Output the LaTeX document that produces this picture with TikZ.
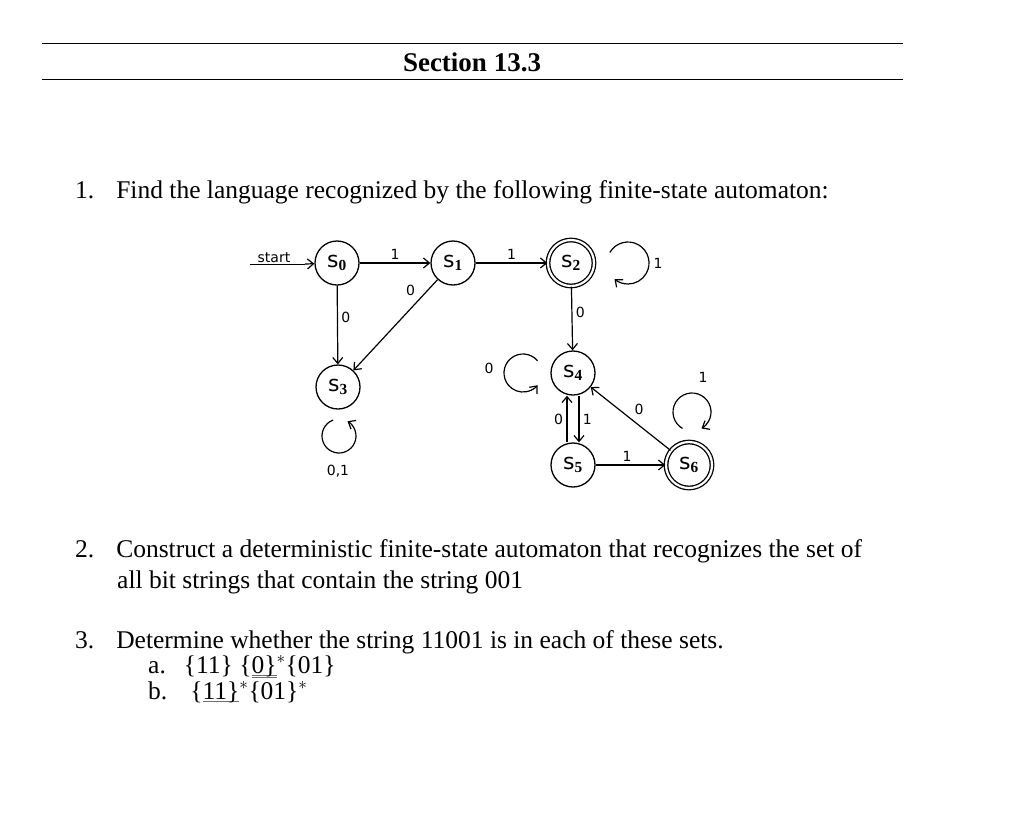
\documentclass[tikz,border=0pt]{standalone}
\usepackage{fontspec}
\setmainfont{Liberation Serif}
\newfontfamily\lab{DejaVu Sans}
\usetikzlibrary{arrows.meta}
\definecolor{ulblue}{RGB}{70,110,210}
\newcommand\dul[2]{{\setbox0\hbox{#2}\rlap{\textcolor{ulblue}{\rule[-2.5pt]{\wd0}{1pt}}}\ifnum#1=2\rlap{\textcolor{ulblue}{\rule[-4.8pt]{\wd0}{1pt}}}\fi\box0}}
\begin{document}
\begin{tikzpicture}[x=1pt,y=-1pt,
  st/.style={circle,draw,line width=1.3pt,minimum size=44pt,inner sep=0pt,font=\lab\fontsize{22}{22}\selectfont},
  acc/.style={st,double,double distance=2.2pt,minimum size=46pt},
  ed/.style={-{Straight Barb[length=6pt,width=10pt,line width=1.2pt]},line width=1.2pt},
  lb/.style={font=\lab\fontsize{14}{14}\selectfont},
  tx/.style={anchor=base west,inner sep=0pt,font=\fontsize{25.5}{28}\selectfont}]
\useasboundingbox (0,0) rectangle (1024,831);
\draw[line width=0.9pt] (42,43) -- (903,43);
\draw[line width=0.9pt] (42,79) -- (903,79);
\node[font=\bfseries\fontsize{27}{30}\selectfont] (title) at (472,62) {Section 13.3};
\node[tx] (q1) at (75,198) {1.\hspace{22pt}Find the language recognized by the following finite-state automaton:};
\node[tx] (q2) at (75,557) {2.\hspace{22pt}Construct a deterministic finite-state automaton that recognizes the set of};
\node[tx] (q2b) at (117,588) {all bit strings that contain the string 001};
\node[tx] (q3) at (75,648) {3.\hspace{22pt}Determine whether the string 11001 is in each of these sets.};
\node[tx] (qa) at (148,673) {a.\hspace{18pt}\{11\} \{\dul{2}{0\}}$^*$\{01\}};
\node[tx] (qb) at (148,699) {b.\hspace{23pt}\{\dul{1}{11\}}$^*$\{01\}$^*$};

\node[st] (s0) at (337,263) {s$_{\mathbf 0}$};
\node[st] (s1) at (453,263) {s$_{\mathbf 1}$};
\node[acc] (s2) at (571,263) {s$_{\mathbf 2}$};
\node[st] (s3) at (338,387) {s$_{\mathbf 3}$};
\node[st] (s4) at (573,373) {s$_{\mathbf 4}$};
\node[st] (s5) at (573,465) {s$_{\mathbf 5}$};
\node[acc] (s6) at (689,465) {s$_{\mathbf 6}$};
\node[lb,anchor=base] (start) at (274,262) {start};
\coordinate (st0) at (305,264);
\draw[line width=1pt] (250,264) -- (st0);
\draw[ed] (st0) -- (s0);
\draw[ed] (s0) -- node[lb,above]{1} (s1);
\draw[ed] (s1) -- node[lb,above]{1} (s2);
\draw[ed] (s0) -- node[lb,right,pos=0.4]{0} (s3);
\draw[ed] (s1) -- node[lb,above left,pos=0.22]{0} (s3);
\draw[ed] (s2) -- node[lb,right,pos=0.4]{0} (s4);
\draw[ed] ([xshift=6pt]s4.south) -- node[lb,right]{1} ([xshift=6pt]s5.north);
\draw[ed] ([xshift=-6pt]s5.north) -- node[lb,left]{0} ([xshift=-6pt]s4.south);
\draw[ed] (s5) -- node[lb,above,pos=0.45]{1} (s6);
\draw[ed] (s6) -- node[lb,above right,pos=0.5]{0} (s4);
\draw[ed] (628,263) ++(210:21) arc[start angle=210,end angle=490,radius=21];
\node[lb] (l2) at (658,263) {1};
\draw[ed] (339,436) ++(250:17) arc[start angle=250,end angle=-60,radius=17];
\node[lb] (l3) at (338,471) {0,1};
\draw[ed] (523,373) ++(-40:19) arc[start angle=-40,end angle=-320,radius=19];
\node[lb] (l4) at (489,368) {0};
\draw[ed] (692,412) ++(120:19) arc[start angle=120,end angle=420,radius=19];
\node[lb] (l6) at (703,377) {1};
\end{tikzpicture}
\end{document}
